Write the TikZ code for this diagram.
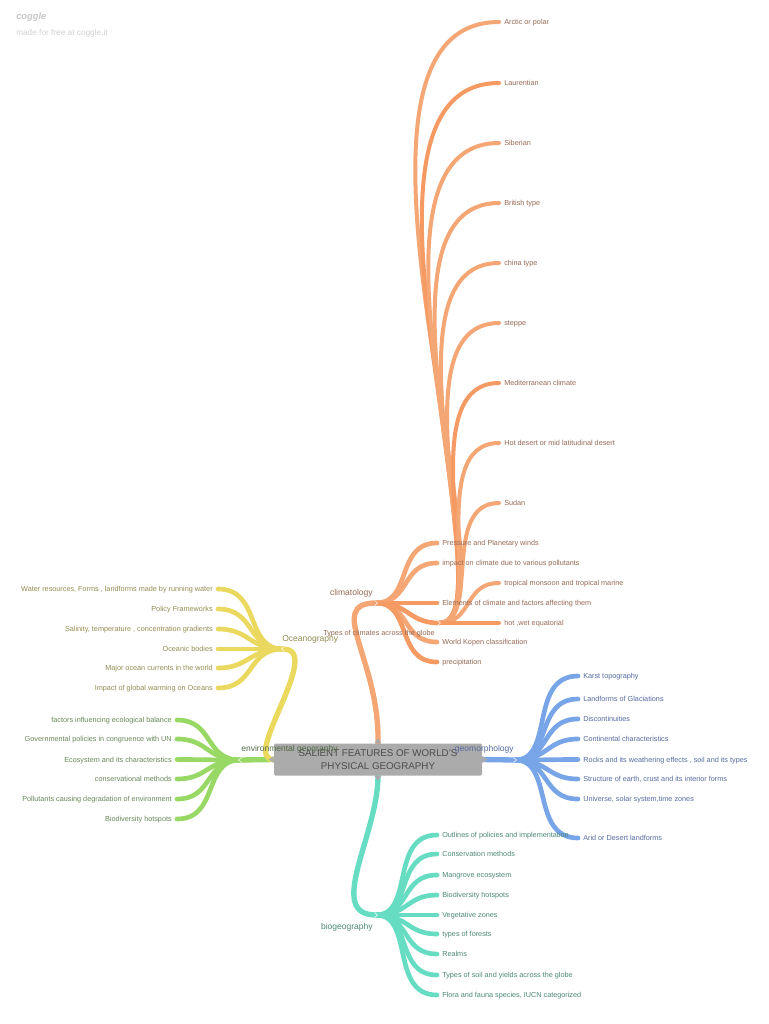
\documentclass[tikz,border=0pt]{standalone}
\usepackage{fontspec}
\setmainfont{Liberation Sans}
\usetikzlibrary{calc,backgrounds}
\definecolor{orline}{HTML}{F4A675}
\definecolor{ordark}{HTML}{F59A62}
\definecolor{yeline}{HTML}{EBD95F}
\definecolor{grline}{HTML}{98D865}
\definecolor{blline}{HTML}{78A5E8}
\definecolor{teline}{HTML}{66DCC2}
\definecolor{ortext}{HTML}{966A55}
\definecolor{yetext}{HTML}{928D52}
\definecolor{grtext}{HTML}{688759}
\definecolor{bltext}{HTML}{566BA0}
\definecolor{tetext}{HTML}{4C8878}
\tikzset{
  wire/.style={line width=3.5pt,line cap=round,line join=round},
  mainwire/.style={line width=4pt,line cap=round,line join=round},
  leafl/.style={font=\fontsize{5.45}{6}\selectfont,text height=5.6pt,text depth=1.2pt,inner ysep=0pt,inner xsep=3.75pt,anchor=west},
  leafr/.style={font=\fontsize{5.45}{6}\selectfont,text height=5.6pt,text depth=1.2pt,inner ysep=0pt,inner xsep=3.75pt,anchor=east},
  hublabel/.style={font=\fontsize{6.4}{8}\selectfont,inner sep=0pt,text height=5.8pt,text depth=1.4pt},
  centrebox/.style={fill=black!33,rounded corners=1pt,minimum width=156pt,minimum height=24pt,inner sep=0pt,align=center,text=black!70,font=\fontsize{7.33}{9.4}\selectfont},
  chev/.style={draw=white,opacity=.8,line width=.5pt}
}
% curved connector: style, direction (+1/-1), from, to
\newcommand{\conn}[4]{%
  \begin{scope}[on background layer]
  \draw[wire,#1] let \p1=(#3),\p2=(#4),
      \n1={0.5*abs(\x2-\x1)+0.1*abs(\y2-\y1)},\n2={0.4*abs(\x2-\x1)+0.29*abs(\y2-\y1)} in
      (#3) .. controls ({\x1+(#2)*\n1},\y1) and ({\x2-(#2)*\n2},\y2) .. (#4);
  \end{scope}}
\newcommand{\chevron}[1]{\draw[chev] ($(#1)+(-1.5,-2.5)$) -- ($(#1)+(1.5,0)$) -- ($(#1)+(-1.5,2.5)$);}
\begin{document}
\begin{tikzpicture}[x=0.75pt,y=-0.75pt]
\useasboundingbox (0,0) rectangle (768,1024);
\begin{scope}[on background layer]
\fill[white] (0,0) rectangle (768,1024);
\end{scope}

% header
\node[anchor=west,inner sep=0pt,text=black!22,font=\fontsize{7}{9}\selectfont\itshape\bfseries] (logo) at (16,17) {coggle};
\node[anchor=west,inner sep=0pt,text=black!18,font=\fontsize{6.2}{8}\selectfont] (made) at (16,33.5) {made for free at coggle.it};

% centre
\node[centrebox] (centre) at (378,759.5) {SALIENT FEATURES OF WORLD'S\\PHYSICAL GEOGRAPHY};

% hubs
\coordinate (clim) at (376,603);
\coordinate (types) at (439,623);
\coordinate (ocean) at (283,649);
\coordinate (envi) at (240,760);
\coordinate (geom) at (515,760);
\coordinate (biog) at (376,915);

% main branches
\begin{scope}[on background layer]
\draw[mainwire,draw=orline] (centre.north) .. controls (380,660) and (325,603) .. (clim);
\draw[mainwire,draw=grline] (centre.west) -- (envi);
\draw[mainwire,draw=blline] (centre.east) -- (geom);
\draw[mainwire,draw=teline] (centre.south) .. controls (378,835) and (325,915) .. (biog);
\draw[mainwire,draw=yeline] (centre.west) .. controls (240,760) and (325,649) .. (ocean);
\end{scope}

% hub labels
\node[hublabel,anchor=east,text=ortext] (climL) at (373,593) {climatology};
\node[leafl,inner xsep=0pt,anchor=east,text=ortext] (typesL) at (435,633) {Types of climates across the globe};
\node[hublabel,anchor=west,text=yetext] (oceanL) at (282,639) {Oceanography};
\node[hublabel,anchor=west,text=grtext!80!black] (enviL) at (241,749) {environmental geography};
\node[hublabel,anchor=east,text=bltext] (geomL) at (514,749) {geomorphology};
\node[hublabel,anchor=east,text=tetext] (biogL) at (373,927) {biogeography};

% climatology children
\foreach \nm/\yy/\tx/\cc in {a/543/Pressure and Planetary winds/orline,b/563/impact on climate due to various pollutants/orline,c/603/Elements of climate and factors affecting them/ordark,d/642/World Kopen classification/orline,e/662/precipitation/ordark}{
  \node[leafl,text=ortext] (cl\nm) at (437,\yy) {\tx};
  \conn{draw=\cc}{1}{clim}{cl\nm.west}
}
\conn{draw=ordark}{1}{clim}{types}
% types children
\foreach \nm/\yy/\tx/\cc in {a/22/Arctic or polar/orline,b/83/Laurentian/ordark,c/143/Siberian/orline,d/203/British type/orline,e/263/china type/orline,f/323/steppe/orline,g/383/Mediterranean climate/ordark,h/443/Hot desert or mid latitudinal desert/orline,i/503/Sudan/orline,j/583/tropical monsoon and tropical marine/orline,k/623/{hot ,wet equatorial}/ordark}{
  \node[leafl,text=ortext] (ty\nm) at (499,\yy) {\tx};
  \conn{draw=\cc,line width=3pt}{1}{types}{ty\nm.west}
}
% oceanography children
\foreach \nm/\yy/\tx in {a/589/{Water resources, Forms , landforms made by running water},b/609/Policy Frameworks,c/629/{Salinity, temperature , concentration gradients},d/649/Oceanic bodies,e/668/Major ocean currents in the world,f/688/Impact of global warming on Oceans}{
  \node[leafr,text=yetext] (oc\nm) at (218,\yy) {\tx};
  \conn{draw=yeline}{-1}{ocean}{oc\nm.east}
}
% environmental children
\foreach \nm/\yy/\tx in {a/720/factors influencing ecological balance,b/739/Governmental policies in congruence with UN,c/759.5/Ecosystem and its characteristics,d/779/conservational methods,e/799/Pollutants causing degradation of environment,f/819/Biodiversity hotspots}{
  \node[leafr,text=grtext] (en\nm) at (177,\yy) {\tx};
  \conn{draw=grline}{-1}{envi}{en\nm.east}
}
% geomorphology children
\foreach \nm/\yy/\tx in {a/676/Karst topography,b/699/Landforms of Glaciations,c/719/Discontinuities,d/739/Continental characteristics,e/759.5/{Rocks and its weathering effects , soil and its types},f/779/{Structure of earth, crust and its interior forms},g/799/{Universe, solar system,time zones},h/838/Arid or Desert landforms}{
  \node[leafl,text=bltext] (ge\nm) at (578,\yy) {\tx};
  \conn{draw=blline}{1}{geom}{ge\nm.west}
}
% biogeography children
\foreach \nm/\yy/\tx in {a/835/Outlines of policies and implementation,b/854/Conservation methods,c/875/Mangrove ecosystem,d/895/Biodiversity hotspots,e/915/Vegetative zones,f/934/types of forests,g/954/Realms,h/975/Types of soil and yields across the globe,i/995/{Flora and fauna species, IUCN categorized}}{
  \node[leafl,text=tetext] (bi\nm) at (437,\yy) {\tx};
  \conn{draw=teline}{1}{biog}{bi\nm.west}
}

% attachment marks on the centre box
\fill[black!33] ($(centre.north)+(-3.5,0)$) -- ($(centre.north)+(0,-5)$) -- ($(centre.north)+(3.5,0)$) -- cycle;
\fill[black!33] ($(centre.south)+(-3.5,0)$) -- ($(centre.south)+(0,5)$) -- ($(centre.south)+(3.5,0)$) -- cycle;
\fill[black!33] ($(centre.east)+(0,-3.5)$) -- ($(centre.east)+(5,0)$) -- ($(centre.east)+(0,3.5)$) -- cycle;
\fill[black!33] ($(centre.west)+(0,-3.5)$) -- ($(centre.west)+(-5,0)$) -- ($(centre.west)+(0,3.5)$) -- cycle;
\chevron{clim}
\chevron{types}
\chevron{geom}
\draw[chev] ($(ocean)+(1.5,-2.5)$) -- ($(ocean)+(-1.5,0)$) -- ($(ocean)+(1.5,2.5)$);
\draw[chev] ($(envi)+(1.5,-2.5)$) -- ($(envi)+(-1.5,0)$) -- ($(envi)+(1.5,2.5)$);
\chevron{biog}
\end{tikzpicture}
\end{document}
